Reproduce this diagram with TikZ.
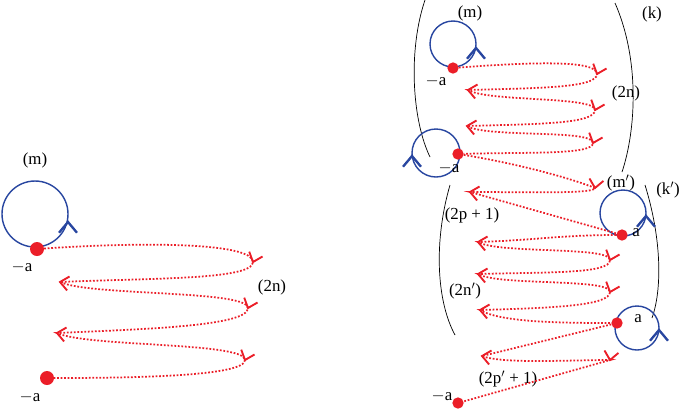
\documentclass[tikz,border=0pt]{standalone}
\usepackage{fontspec}
\setmainfont{Liberation Serif}
\usetikzlibrary{positioning}

\tikzset{
	loopc/.style={draw={rgb,255:red,40;green,70;blue,160}, line width=1.2pt},
	wire/.style={draw={rgb,255:red,235;green,30;blue,40}, line width=1.5pt, dash pattern=on 1.5pt off 1.5pt},
	chev/.style={draw={rgb,255:red,235;green,30;blue,40}, line width=1.6pt},
	bchev/.style={draw={rgb,255:red,40;green,70;blue,160}, line width=2pt},
	dotn/.style={circle, fill={rgb,255:red,235;green,30;blue,40}, inner sep=0pt, minimum size=#1},
	dotn/.default=4.2mm,
	bracket/.style={draw=black, line width=0.6pt},
	lab/.style={font=\Large, inner sep=1pt}
}
% small arrow tips drawn by hand
\newcommand{\chev}[2]{\draw[chev] (#1) +(#2+140:11) -- (#1) -- +(#2-140:11);}
\newcommand{\bchev}[2]{\draw[bchev] (#1) +(#2+140:14) -- (#1) -- +(#2-140:14);}

\begin{document}
\begin{tikzpicture}[x=0.03cm, y=-0.03cm]
	\useasboundingbox (0,0) rectangle (685,410);

	% left panel
	\draw[loopc] (35,214) circle (33);
	\bchev{68,222}{270}
	\node[dotn] (la) at (37,249) {};
	\node[dotn] (lb) at (47,378) {};
	\node[lab] (lm) at (35,160) {(m)};
	\node[lab] (lna) at (22,267) {$-$a};
	\node[lab] (lnb) at (30,397) {$-$a};
	\node[lab] (l2n) at (272,287) {(2n)};
	\draw[wire] (la) .. controls +(120,-8) and +(0,-18) .. (253,262)
		.. controls +(0,18) and +(90,-4) .. (60,282)
		.. controls +(30,14) and +(0,-18) .. (248,308)
		.. controls +(0,18) and +(90,-4) .. (57,333)
		.. controls +(30,14) and +(0,-18) .. (245,360)
		.. controls +(0,16) and +(90,0) .. (lb);
	\chev{253,262}{110}
	\chev{248,308}{110}
	\chev{245,360}{110}
	\chev{60,282}{190}
	\chev{57,333}{190}

	% right panel brackets
	\draw[bracket] (425,0) .. controls (408,50) and (412,120) .. (430,157);
	\draw[bracket] (615,3) .. controls (640,60) and (636,130) .. (622,172);
	\draw[bracket] (450,185) .. controls (434,240) and (436,300) .. (455,335);
	\draw[bracket] (645,185) .. controls (662,240) and (662,290) .. (652,318);

	% right panel loops
	\draw[loopc] (453,44) circle (23);
	\bchev{476,48}{270}
	\draw[loopc] (436,153) circle (24);
	\bchev{412,156}{270}
	\draw[loopc] (623,213) circle (23);
	\bchev{646,216}{270}
	\draw[loopc] (637,328) circle (22);
	\bchev{659,330}{270}

	\node[dotn=3.4mm] (ra) at (453,68) {};
	\node[dotn=3.4mm] (rb) at (458,154) {};
	\node[dotn=3.4mm] (rc) at (622,235) {};
	\node[dotn=3.4mm] (rd) at (617,323) {};
	\node[dotn=3.4mm] (re) at (458,403) {};

	\node[lab] (rm) at (470,13) {(m)};
	\node[lab] (rk) at (652,14) {(k)};
	\node[lab] (rna) at (436,81) {$-$a};
	\node[lab] (rnb) at (449,168) {$-$a};
	\node[lab] (r2n) at (626,93) {(2n)};
	\node[lab] (rmp) at (621,183) {(m$'$)};
	\node[lab] (rkp) at (668,190) {(k$'$)};
	\node[lab] (rpa) at (636,233) {a};
	\node[lab] (r2p) at (472,215) {(2p + 1)};
	\node[lab] (r2np) at (465,291) {(2n$'$)};
	\node[lab] (rpb) at (638,319) {a};
	\node[lab] (r2pp) at (508,379) {(2p$'$ + 1)};
	\node[lab] (rne) at (442,396) {$-$a};

	% right panel wires
	\draw[wire] (ra) .. controls +(80,-6) and +(0,-14) .. (597,74)
		.. controls +(0,14) and +(70,-2) .. (468,90)
		.. controls +(20,12) and +(0,-14) .. (595,110)
		.. controls +(0,14) and +(70,-2) .. (467,126)
		.. controls +(20,12) and +(0,-14) .. (593,143)
		.. controls +(0,12) and +(70,-2) .. (rb);
	\draw[wire] (rb) .. controls +(50,8) and +(-30,-12) .. (595,188)
		.. controls +(0,6) and +(60,0) .. (470,192)
		-- (rc)
		.. controls +(-60,0) and +(60,-2) .. (478,242)
		.. controls +(20,12) and +(0,-14) .. (610,260)
		.. controls +(0,14) and +(70,-2) .. (478,274)
		.. controls +(20,12) and +(0,-14) .. (610,292)
		.. controls +(0,14) and +(70,-2) .. (480,310)
		.. controls +(20,12) and +(-60,0) .. (rd)
		-- (482,356)
		.. controls +(20,8) and +(-40,0) .. (610,360)
		-- (re);
	\chev{597,74}{110}
	\chev{595,110}{110}
	\chev{593,143}{110}
	\chev{595,188}{100}
	\chev{610,260}{110}
	\chev{610,292}{110}
	\chev{610,360}{100}
	\chev{468,90}{190}
	\chev{467,126}{190}
	\chev{470,192}{190}
	\chev{478,242}{190}
	\chev{478,274}{190}
	\chev{480,310}{190}
	\chev{482,356}{190}
\end{tikzpicture}
\end{document}
